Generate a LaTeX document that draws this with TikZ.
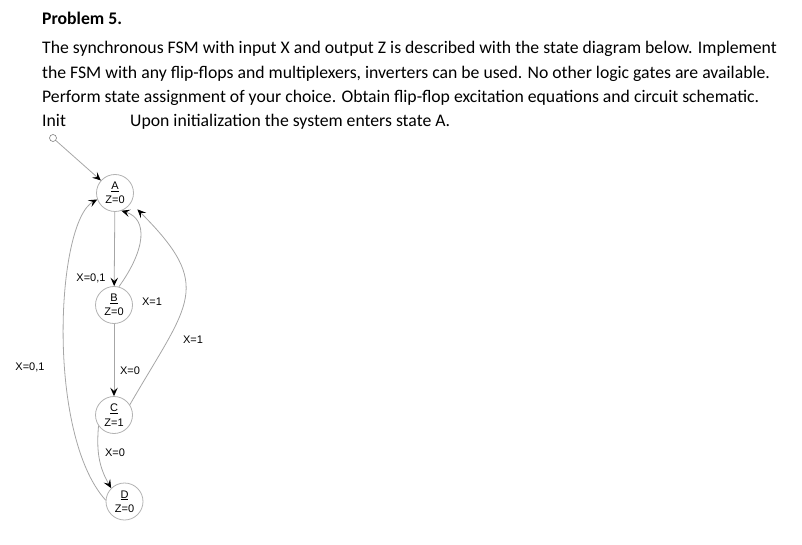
\documentclass[tikz,border=0pt]{standalone}
\usepackage{fontspec}
\setmainfont{Carlito}
\newfontfamily\diagfont{Liberation Sans}
\usetikzlibrary{arrows.meta}

\begin{document}
\begin{tikzpicture}[%
      x=1pt, y=1pt, %
      state/.style={
        circle,
        draw=gray!60,
        line width=0.8pt,
        minimum size=37pt,
        inner sep=0pt,
        align=center,
        font=\diagfont\fontsize{11}{14.4}\selectfont
      },
      trans/.style={
        draw=gray!70,
        line width=0.8pt,
        -{Stealth[black, length=8.5pt, width=7.5pt, inset=3.5pt]}
      },
      lbl/.style={font=\diagfont\fontsize{11}{13}\selectfont, inner sep=0pt},
      txt/.style={anchor=base west, inner sep=0pt, font=\fontsize{17.7}{20}\selectfont}
      ]
      \useasboundingbox (0,0) rectangle (802,544);

      % Problem text
      \node[txt, font=\bfseries\fontsize{17.7}{20}\selectfont] (title) at (42,519) {Problem 5.};
      \node[txt] (line1) at (42,490) {The synchronous FSM with input X and output Z is described with the state diagram below. Implement};
      \node[txt] (line2) at (42,465.7) {the FSM with any flip-flops and multiplexers, inverters can be used. No other logic gates are available.};
      \node[txt] (line3) at (42,441.4) {Perform state assignment of your choice. Obtain flip-flop excitation equations and circuit schematic.};
      \node[txt] (initlbl) at (42,417) {Init};
      \node[txt] (initnote) at (130,417) {Upon initialization the system enters state A.};

      % States
      \node[state] (A) at (115,351) {\underline{A}\\Z=0};
      \node[state] (B) at (114,239) {\underline{B}\\Z=0};
      \node[state] (C) at (114,129) {\underline{C}\\Z=1};
      \node[state] (D) at (124.5,42.5) {\underline{D}\\Z=0};

      \node[
      circle,
      draw=gray,
      line width=0.6pt,
      inner sep=0pt,
      minimum size=7pt
      ] (init) at (53,406) {};

      % Transitions
      \draw[trans] (init) -- (A);
      \draw[trans] (A) -- (B);
      \draw[trans] (B.75) .. controls (146,295) and (148,325) .. (A.-70);
      \draw[trans] (B) -- (C);
      \draw[trans, shorten >=9pt] (C.33) to[out=60, in=-45, looseness=1.5] (A.-32);
      \draw[trans] (C.215) to[out=-95, in=120] (D.135);
      \draw[trans] (D.176) .. controls (46,110) and (56,322) .. (A.200);

      % Labels
      \node[lbl] (xab) at (91,266) {X=0,1};
      \node[lbl] (xba) at (152,242) {X=1};
      \node[lbl] (xca) at (193,204) {X=1};
      \node[lbl] (xbc) at (130,173) {X=0};
      \node[lbl] (xda) at (30,177) {X=0,1};
      \node[lbl] (xcd) at (115,91) {X=0};

    \end{tikzpicture}
\end{document}
